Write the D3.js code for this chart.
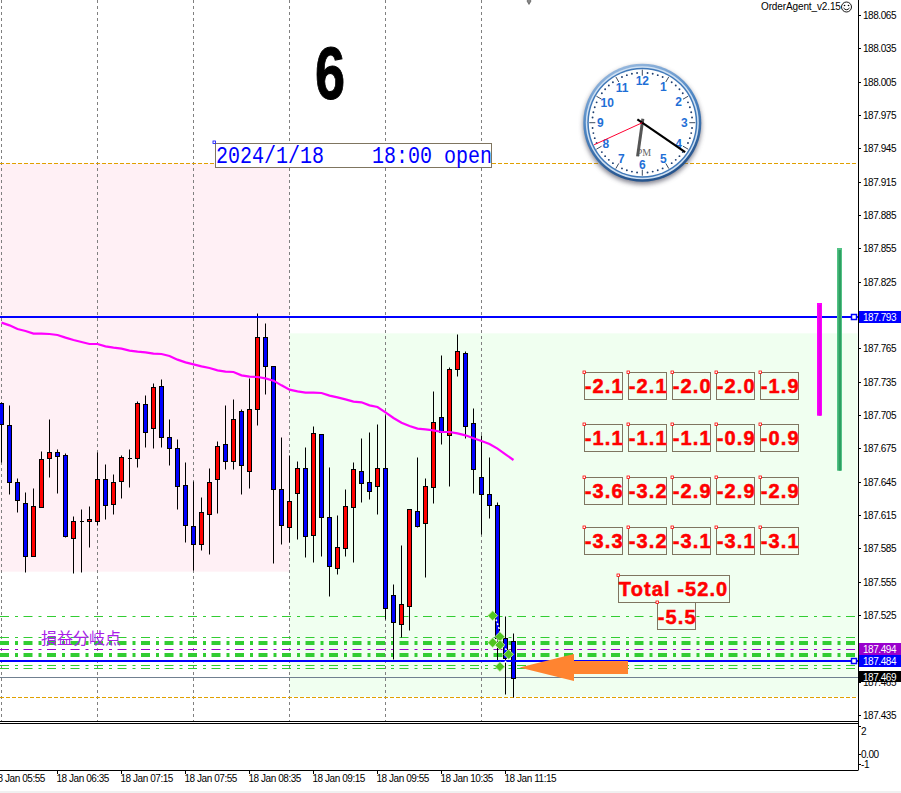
<!DOCTYPE html>
<html><head><meta charset="utf-8">
<script src="https://cdn.jsdelivr.net/npm/d3@7"></script>
<style>html,body{margin:0;padding:0;background:#fff;overflow:hidden}svg{display:block}</style>
</head><body><svg id="c" width="901" height="793"></svg>
<script>
// ---------- data ----------
const opens=[187.7155,187.6957,187.6444,187.6255,187.5784,187.6225,187.6660,187.6714,187.6687,187.5946,187.6093,187.6093,187.6093,187.6471,187.6246,187.6453,187.6660,187.6660,187.7146,187.6930,187.7308,187.6849,187.6750,187.6417,187.6048,187.5886,187.6156,187.6471,187.6786,187.6633,187.7083,187.6543,187.7101,187.7749,187.7488,187.6381,187.6039,187.6345,187.6570,187.5967,187.6876,187.6129,187.5670,187.5850,187.6219,187.6543,187.6444,187.6408,187.6570,187.5427,187.5172,187.5328,187.6183,187.6075,187.6399,187.7029,187.6867,187.7461,187.7605,187.6975,187.6489,187.6336,187.6237,187.5040,187.5016];
const closes=[187.6966,187.6444,187.6288,187.5784,187.6228,187.6651,187.6714,187.6678,187.5964,187.6093,187.6093,187.6111,187.6471,187.6237,187.6444,187.6669,187.6660,187.7155,187.6894,187.7299,187.6849,187.6750,187.6408,187.6057,187.5886,187.6174,187.6444,187.6768,187.6633,187.7011,187.6597,187.7101,187.7749,187.7488,187.6381,187.6057,187.6273,187.6570,187.5958,187.6885,187.6129,187.5688,187.5859,187.6228,187.6561,187.6435,187.6363,187.6570,187.5316,187.5184,187.5346,187.6201,187.6048,187.6408,187.6984,187.6894,187.7461,187.7623,187.6954,187.6561,187.6336,187.6237,187.5043,187.4863,187.4686];
const highs=[187.7167,187.7140,187.6480,187.6357,187.6393,187.6726,187.7014,187.6741,187.6705,187.6141,187.6201,187.6231,187.6714,187.6609,187.6519,187.6687,187.6741,187.7173,187.7230,187.7335,187.7371,187.7014,187.6831,187.6624,187.6453,187.6312,187.6573,187.6813,187.7140,187.7194,187.7101,187.7383,187.7965,187.7875,187.7488,187.6852,187.6687,187.6633,187.6762,187.6948,187.6876,187.6582,187.6150,187.6384,187.6624,187.6840,187.6897,187.6966,187.7047,187.5529,187.5880,187.6201,187.6672,187.6483,187.7266,187.7590,187.7482,187.7779,187.7623,187.7110,187.6867,187.6672,187.6264,187.5241,187.5085];
const lows=[187.6627,187.6339,187.6180,187.5640,187.5784,187.6225,187.6495,187.6351,187.5955,187.5631,187.5640,187.5865,187.6060,187.6114,187.6159,187.6306,187.6405,187.6585,187.6765,187.6756,187.6765,187.6603,187.6204,187.5910,187.5655,187.5838,187.5802,187.6171,187.6567,187.6567,187.6342,187.6396,187.6963,187.7242,187.5721,187.5892,187.5910,187.5937,187.5775,187.5730,187.5784,187.5421,187.5622,187.5784,187.5730,187.6270,187.6297,187.6162,187.5211,187.4854,187.5055,187.5118,187.6045,187.5595,187.6261,187.6789,187.6414,187.7404,187.6843,187.6351,187.5976,187.6126,187.4845,187.4539,187.4515];
const movingAverage=[187.7881,187.7857,187.7824,187.7806,187.7782,187.7782,187.7779,187.7770,187.7746,187.7725,187.7707,187.7689,187.7689,187.7668,187.7656,187.7647,187.7629,187.7620,187.7614,187.7602,187.7599,187.7581,187.7548,187.7524,187.7506,187.7488,187.7473,187.7452,187.7440,187.7437,187.7407,187.7395,187.7392,187.7380,187.7359,187.7317,187.7278,187.7263,187.7251,187.7251,187.7248,187.7224,187.7209,187.7191,187.7170,187.7164,187.7137,187.7122,187.7074,187.7023,187.6981,187.6951,187.6927,187.6921,187.6912,187.6897,187.6897,187.6885,187.6867,187.6840,187.6816,187.6789,187.6747,187.6696,187.6645];
const priceTicks=[188.065,188.035,188.005,187.975,187.945,187.915,187.885,187.855,187.825,187.795,187.765,187.735,187.705,187.675,187.645,187.615,187.585,187.555,187.525,187.495,187.465,187.435];
const timeTickIndex=[-1,7,15,23,31,39,47,55,63];
const timeTickLabels=["18 Jan 05:55","18 Jan 06:35","18 Jan 07:15","18 Jan 07:55","18 Jan 08:35","18 Jan 09:15","18 Jan 09:55","18 Jan 10:35","18 Jan 11:15"];
const hourGridIndex=[0,12,24,36,48,60];
const subTicks=[2,0,-1];
const subTickLabels=["2","0.00","-1"];
const resultRows=[["-2.1","-2.1","-2.0","-2.0","-1.9"],["-1.1","-1.1","-1.1","-0.9","-0.9"],["-3.6","-3.2","-2.9","-2.9","-2.9"],["-3.3","-3.2","-3.1","-3.1","-3.1"]];
const totalText="Total -52.0", lastText="-5.5";
const dateText="2024/1/18    18:00 open", bigNumber="6", agentText="OrderAgent_v2.15", breakEvenText="損益分岐点";
const greenLevels=[[187.5238,1],[187.5049,1],[187.5001,4],[187.4887,4],[187.4800,1],[187.4777,1]];
const purpleLevel=187.494, blueLevels=[187.793,187.484], greyLevel=187.469, goldLevels=[187.9315,187.4515];
const pinkZone=[-1,36,187.9315,187.564], greenZone=[36,107,187.7785,187.4515];
const verticalBars=[{i:102.25,top:187.8058,bottom:187.7044,c:"#ff00ff",d:"#e800e8"},{i:104.75,top:187.8553,bottom:187.6549,c:"#52c285",d:"#2e9e62"}];
const entryMarkers=[[61.4,187.5244],[62.3,187.5055],[61.4,187.5001],[62.3,187.4980],[63.4,187.4896],[62.3,187.4785]];
const priceLabels=[{v:"187.793",y:187.793,c:"#0000ff"},{v:"187.494",y:187.494,c:"#9a00cd"},{v:"187.484",y:187.484,c:"#0000ff"},{v:"187.469",y:187.469,c:"#000000"}];
const clockNumbers=[12,1,2,3,4,5,6,7,8,9,10,11];
const clockHands={hour:188,minute:124.5,second:245.4};

// ---------- scales ----------
const W=858,MB=721.5;
const svg=d3.select("#c");
const x=d3.scaleLinear().domain([0,64]).range([1.5,513.5]);
const y=d3.scaleLinear().domain([188.065,187.435]).range([15,715]);
const ySub=d3.scaleLinear().domain([-1,0,2]).range([764,754,726]);
const cy=v=>Math.round(y(v))+.5;
const SANS="'Liberation Sans',Arial,sans-serif";

const defs=svg.append("defs");
defs.append("clipPath").attr("id","main").append("rect").attr("width",W).attr("height",MB);
const g=svg.append("g").attr("clip-path","url(#main)");

// zones
[[pinkZone,"#fff0f5"],[greenZone,"#f0fff0"]].forEach(([z,c])=>{
 g.append("rect").attr("x",Math.max(0,x(z[0]))).attr("y",y(z[2])).attr("width",Math.min(W,x(z[1]))-Math.max(0,x(z[0]))).attr("height",y(z[3])-y(z[2])).attr("fill",c);
});
// grid
g.selectAll(".vg").data(hourGridIndex).join("line").attr("x1",d=>x(d)).attr("x2",d=>x(d)).attr("y1",0).attr("y2",MB)
 .attr("stroke","#808080").attr("stroke-dasharray","3,3");
// gold
g.selectAll(".gold").data(goldLevels).join("line").attr("x1",0).attr("x2",W).attr("y1",cy).attr("y2",cy)
 .attr("stroke","#e0a000").attr("stroke-dasharray","4,2");
// green / purple levels
g.selectAll(".gl").data(greenLevels).join("line").attr("x1",0).attr("x2",W).attr("y1",d=>cy(d[0])-(d[1]>1?.5:0)).attr("y2",d=>cy(d[0])-(d[1]>1?.5:0))
 .attr("stroke","#32cd32").attr("stroke-width",d=>d[1]).attr("stroke-dasharray","9,6,3,5.5");
g.append("line").attr("x1",0).attr("x2",W).attr("y1",cy(purpleLevel)).attr("y2",cy(purpleLevel)).attr("stroke","#9a00cd").attr("stroke-dasharray","9,6,3,5.5");
g.append("line").attr("x1",0).attr("x2",W).attr("y1",cy(greyLevel)).attr("y2",cy(greyLevel)).attr("stroke","#708090");

// candles
const candles=opens.map((o,i)=>({i,o,c:closes[i],h:highs[i],l:lows[i]}));
g.selectAll(".wick").data(candles).join("line").attr("x1",d=>x(d.i)).attr("x2",d=>x(d.i)).attr("y1",d=>cy(d.h)).attr("y2",d=>cy(d.l)).attr("stroke","#000");
g.selectAll(".body").data(candles).join("path").attr("d",d=>{
  const t=cy(Math.max(d.o,d.c)),b=cy(Math.min(d.o,d.c)),p=d3.path();p.rect(x(d.i)-2,t,4,b-t);return p.toString();})
 .attr("fill",d=>d.c>d.o?"#ff0000":"#0000ff").attr("stroke","#000").attr("shape-rendering","crispEdges");

// MA
g.append("path").datum(movingAverage).attr("d",d3.line().x((d,i)=>x(i)).y(d=>y(d))).attr("fill","none").attr("stroke","#ff00ff").attr("stroke-width",2.2);

// blue lines + handles
g.selectAll(".bl").data(blueLevels).join("line").attr("x1",0).attr("x2",W).attr("y1",d=>Math.round(y(d))).attr("y2",d=>Math.round(y(d))).attr("stroke","#0000ff").attr("stroke-width",2);
g.selectAll(".bh").data(blueLevels).join("rect").attr("x",851.5).attr("y",d=>Math.round(y(d))-2.5).attr("width",5).attr("height",5).attr("fill","#fff").attr("stroke","#0000ff").attr("stroke-width",1.5);

// vertical bars
verticalBars.forEach(b=>{
 const bx=x(b.i)-2.5,by=y(b.top),bh=y(b.bottom)-y(b.top);
 g.append("rect").attr("x",bx).attr("y",by).attr("width",5).attr("height",bh).attr("fill",b.c);
 g.append("rect").attr("x",bx+1.5).attr("y",by+2).attr("width",2.5).attr("height",bh-2).attr("fill",b.d);
});

// entry markers
g.append("path").datum(entryMarkers).attr("d",d3.line().x(d=>x(d[0])+2).y(d=>y(d[1]))).attr("fill","none").attr("stroke","#fff").attr("stroke-width",1.5).attr("stroke-dasharray","2,2");
g.selectAll(".em").data(entryMarkers).join("path").attr("d",d3.symbol(d3.symbolSquare,48))
 .attr("transform",d=>`translate(${x(d[0])},${y(d[1])}) rotate(45)`).attr("fill","#50c420").attr("stroke","#c8eeb0").attr("stroke-width",.8);

// orange arrow
g.append("path").attr("d","M519.5,667.5 L574,654 L574,661 L628,661 L628,674 L574,674 L574,681 Z").attr("fill","#ff8430");

// break-even label
g.append("text").attr("x",41).attr("y",644).attr("font-family","'Noto Sans CJK JP'").attr("font-size",16).attr("font-weight",400).attr("fill","#a81ee8").text(breakEvenText);

// big number
g.append("text").attr("transform","translate(330,99) scale(.73,1)").attr("text-anchor","middle").attr("font-family",SANS).attr("font-weight",700).attr("font-size",74).attr("fill","#000").attr("stroke","#000").attr("stroke-width",1).text(bigNumber);

// date box
g.append("rect").attr("x",215.5).attr("y",143.5).attr("width",276).attr("height",24).attr("fill","#fff").attr("stroke","#7f7560");
g.append("text").attr("transform","translate(216,163) scale(1,1.22)").attr("xml:space","preserve").style("white-space","pre").attr("font-family","'Liberation Mono',monospace").attr("font-size",20).attr("fill","#0000ff").text(dateText);
g.append("rect").attr("x",213).attr("y",141).attr("width",2.5).attr("height",2.5).attr("fill","#fff").attr("stroke","#0000ff").attr("stroke-width",.8);

// result boxes
function box(bx,by,w,txt,base){
 g.append("rect").attr("x",bx).attr("y",by).attr("width",w).attr("height",27).attr("fill","#f0fff0").attr("stroke","#7f7560");
 g.append("text").attr("x",bx+.3).attr("y",base).attr("font-family",SANS).attr("font-weight",700).attr("font-size",20).attr("letter-spacing",1.1).attr("stroke","#ff0000").attr("stroke-width",.5).attr("fill","#ff0000").text(txt);
 g.append("rect").attr("x",bx-1.5).attr("y",by-1.5).attr("width",2.5).attr("height",2.5).attr("fill","#fff").attr("stroke","#ff0000").attr("stroke-width",.8);
}
const rowY=[372.5,424.5,477.5,527.5];
resultRows.forEach((r,ri)=>r.forEach((t,ci)=>box(584.5+44*ci,rowY[ri],38,t,rowY[ri]+20)));
box(618.5,575.5,111,totalText,596);
box(657.5,602.5,38,lastText,623.5);

// top marker + agent text + smiley
g.append("path").attr("d",d3.symbol(d3.symbolDiamond,14)).attr("transform","translate(529,1)").attr("fill","#888").attr("stroke","#444").attr("stroke-width",.6);
g.append("text").attr("x",761).attr("y",10).attr("font-family",SANS).attr("font-size",10).attr("letter-spacing",-.12).attr("fill","#000").text(agentText);
const sm=g.append("g").attr("transform","translate(846.5,7)");
sm.append("circle").attr("r",5).attr("fill","none").attr("stroke","#000").attr("stroke-width",.9);
sm.selectAll("circle.e").data([-2,2]).join("circle").attr("class","e").attr("cx",d=>d).attr("cy",-1.5).attr("r",.8).attr("fill","#000");
sm.append("path").attr("d","M-3,1 Q0,4.5 3,1").attr("fill","none").attr("stroke","#000").attr("stroke-width",.9);

// clock
const CX=642.3,CY=122.7;
const f=defs.append("filter").attr("id","sh").attr("x","-30%").attr("y","-30%").attr("width","160%").attr("height","160%");
f.append("feGaussianBlur").attr("stdDeviation",2.5);
const rg=defs.append("linearGradient").attr("id","ring").attr("x1",0).attr("y1",0).attr("x2",.3).attr("y2",1);
rg.append("stop").attr("offset",0).attr("stop-color","#a8c4e4");
rg.append("stop").attr("offset",.5).attr("stop-color","#4d86c4");
rg.append("stop").attr("offset",1).attr("stop-color","#27568f");
const ck=g.append("g").attr("transform",`translate(${CX},${CY})`);
ck.append("circle").attr("cy",2.5).attr("r",59).attr("fill","#556").attr("opacity",.75).attr("filter","url(#sh)");
ck.append("circle").attr("r",59).attr("fill","url(#ring)");
ck.append("circle").attr("r",56.5).attr("fill","#cfe0f2");
ck.append("circle").attr("r",55).attr("fill","#3f78b8");
ck.append("circle").attr("r",53.5).attr("fill","#fff");
const pol=(r,m)=>[r*Math.sin(m*Math.PI/30),-r*Math.cos(m*Math.PI/30)];
ck.selectAll(".dot").data(d3.range(60).filter(m=>m%5)).join("circle").attr("cx",m=>pol(50,m)[0]).attr("cy",m=>pol(50,m)[1]).attr("r",.95).attr("fill","#1f3f70");
ck.selectAll(".mj").data(d3.range(0,60,5)).join("line").attr("x1",m=>pol(47,m)[0]).attr("y1",m=>pol(47,m)[1]).attr("x2",m=>pol(53,m)[0]).attr("y2",m=>pol(53,m)[1]).attr("stroke","#3b4a60").attr("stroke-width",1);
ck.selectAll(".num").data(clockNumbers).join("text").attr("x",d=>pol(d>=10&&d<12?40.5:42,d*5)[0]).attr("y",d=>pol(d>=10&&d<12?40.5:42,d*5)[1]+4.3)
 .attr("text-anchor","middle").attr("font-family",SANS).attr("font-weight",700).attr("font-size",12).attr("fill","#1f6fd6").text(d=>d);
ck.append("text").attr("x",-5.5).attr("y",33.5).attr("font-family","'Liberation Serif',serif").attr("font-size",10).attr("fill","#666").text("PM");
const hand=(deg,len,back,col,w)=>{const a=deg*Math.PI/180,s=Math.sin(a),c=Math.cos(a);
 ck.append("line").attr("x1",-back*s).attr("y1",back*c).attr("x2",len*s).attr("y2",-len*c).attr("stroke",col).attr("stroke-width",w);};
hand(clockHands.hour,34,4,"#555",3);
hand(clockHands.minute,52,6,"#000",2.2);
hand(clockHands.second,53,0,"#ff0030",1);

// frame + axes
const lines=[[0,MB,W,MB],[0,723.5,W,723.5],[0,770.5,W,770.5],[858.5,0,858.5,770.5]];
svg.selectAll(".fr").data(lines).join("line").attr("x1",d=>d[0]).attr("y1",d=>d[1]).attr("x2",d=>d[2]).attr("y2",d=>d[3]).attr("stroke","#000");

const tickStyle=s=>s.attr("font-family",SANS).attr("font-size",10).attr("letter-spacing",-.45).attr("fill","#000");
const pa=svg.append("g");
pa.selectAll("line").data(priceTicks).join("line").attr("x1",858).attr("x2",861).attr("y1",cy).attr("y2",cy).attr("stroke","#000");
pa.selectAll("text").data(priceTicks).join("text").attr("x",863).attr("y",d=>y(d)+4).call(tickStyle).text(d=>d.toFixed(3));

const sa=svg.append("g");
sa.selectAll("line").data(subTicks).join("line").attr("x1",858).attr("x2",861).attr("y1",d=>Math.round(ySub(d))+.5).attr("y2",d=>Math.round(ySub(d))+.5).attr("stroke","#000");
sa.selectAll("text").data(subTicks).join("text").attr("x",861).attr("y",(d,i)=>[734.5,758,768][i]).call(tickStyle).text((d,i)=>subTickLabels[i]);

const ta=svg.append("g");
ta.selectAll("line").data(timeTickIndex).join("line").attr("x1",d=>x(d)).attr("x2",d=>x(d)).attr("y1",770).attr("y2",774).attr("stroke","#000");
ta.selectAll("text").data(timeTickIndex).join("text").attr("x",d=>x(d)-1).attr("y",782).call(tickStyle).text((d,i)=>timeTickLabels[i]);

// price labels
const pl=svg.selectAll(".pl").data(priceLabels).join("g").attr("transform",d=>`translate(859,${Math.round(y(d.y))})`);
pl.append("rect").attr("y",-6).attr("width",42).attr("height",d=>d.c==="#000000"?11:12).attr("fill",d=>d.c);
pl.append("text").attr("x",4).attr("y",3.6).call(tickStyle).attr("fill","#fff").text(d=>d.v);
svg.append("rect").attr("x",0).attr("y",791).attr("width",901).attr("height",2).attr("fill","#f0f0f0");
</script></body></html>
